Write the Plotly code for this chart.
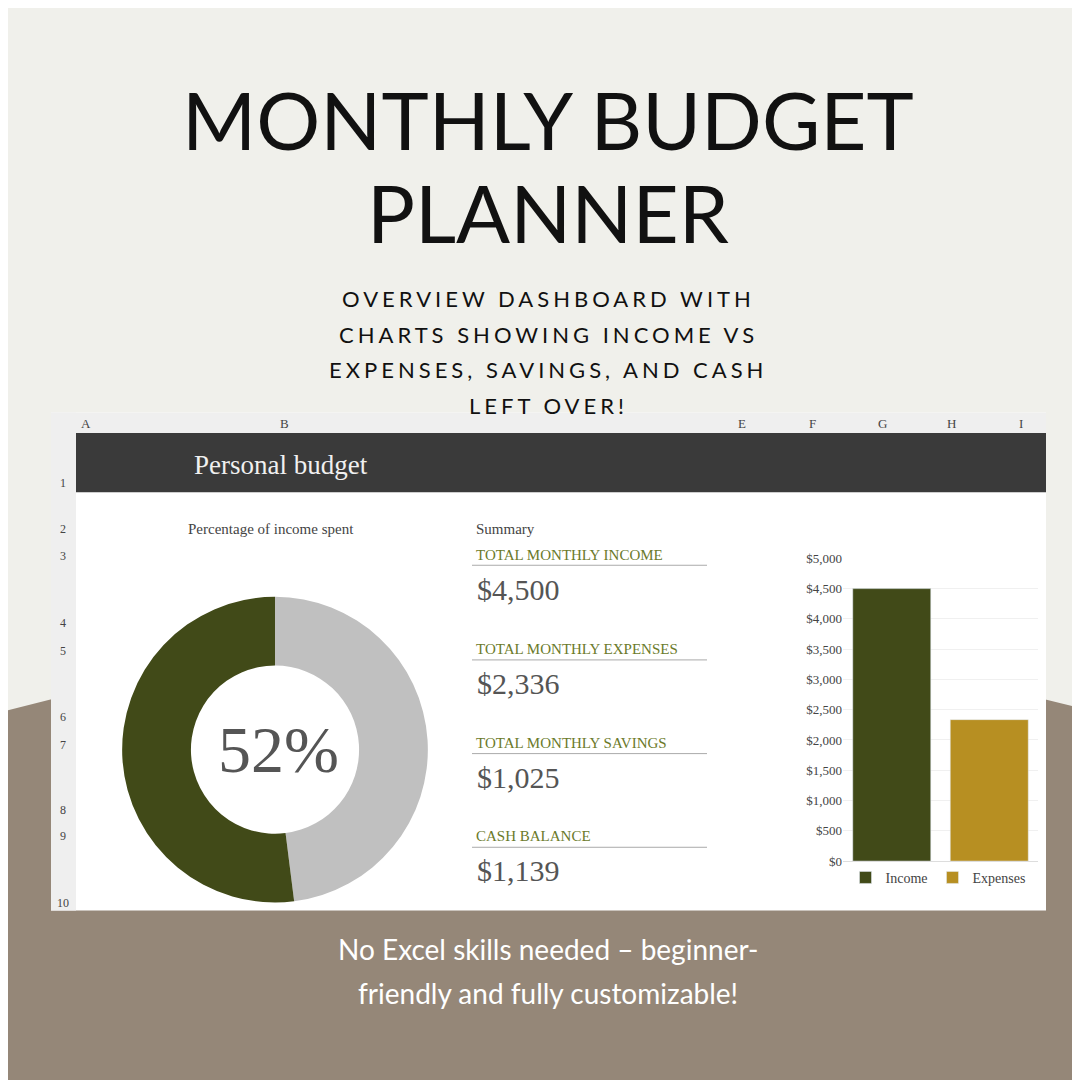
import plotly.graph_objects as go

# data
pie_labels = ["Spent", "Remaining"]
pie_values = [52, 48]
bar_cats = ["Income", "Expenses"]
bar_vals = [4500, 2336]
summary_labels = ["TOTAL MONTHLY INCOME", "TOTAL MONTHLY EXPENSES", "TOTAL MONTHLY SAVINGS", "CASH BALANCE"]
summary_values = ["$4,500", "$2,336", "$1,025", "$1,139"]
col_letters = ["A", "B", "C", "E", "F", "G", "H", "I"]
col_x = [78, 276, 582, 734, 804, 874, 943, 1013]
row_nums = ["1", "2", "3", "4", "5", "6", "7", "8", "9", "10"]
row_y = [475, 521, 549, 617, 645, 712, 740, 806, 833, 901]

GREEN = "#414a18"
GOLD = "#b78f22"
SERIF = "Liberation Serif"
W = H = 1080


def px(x, y):
    return x / W, 1 - y / H


fig = go.Figure()

shapes = [
    dict(type="path", xref="paper", yref="paper",
         path="M 0,0 L 0,%f Q 0.5,%f 1,%f L 1,0 Z" % (1 - 705 / H, 1 - 560 / H, 1 - 705 / H),
         fillcolor="#958778", line_width=0, layer="below"),
]


def rect(x0, y0, x1, y1, color):
    a, b = px(x0, y0)
    c, d = px(x1, y1)
    return dict(type="rect", xref="paper", yref="paper", x0=a, y0=d, x1=c, y1=b,
                fillcolor=color, layer="below", line_width=0)


shapes.append(rect(43, 403, 1038, 908, "white"))
shapes.append(rect(43, 403, 1038, 424, "#efefef"))
shapes.append(rect(43, 403, 68, 908, "#efefef"))
shapes.append(rect(68, 424, 1038, 484, "#3a3a3a"))
for yy in [558, 654, 749, 844]:
    a, b = px(464, yy)
    c, _ = px(699, yy)
    shapes.append(dict(type="line", xref="paper", yref="paper", x0=a, x1=c, y0=b, y1=b,
                       line=dict(color="#aaaaaa", width=1)))

ann = []


def text(x, y, t, size, color="#333", font=SERIF, xanchor="left"):
    a, b = px(x, y)
    ann.append(dict(x=a, y=b, xref="paper", yref="paper", text=t, showarrow=False,
                    xanchor=xanchor, yanchor="middle", font=dict(family=font, size=size, color=color)))


text(540, 105, "MONTHLY BUDGET", 80, "#111", "Lato", "center")
text(540, 200, "PLANNER", 80, "#111", "Lato", "center")
for i, line in enumerate(["OVERVIEW DASHBOARD WITH", "CHARTS SHOWING INCOME VS",
                          "EXPENSES, SAVINGS, AND CASH", "LEFT OVER!"]):
    text(540, 288 + i * 36, "<span style='letter-spacing:4px'>%s</span>" % line, 22, "#111", "Lato", "center")
for c, xx in zip(col_letters, col_x):
    if c == "C":
        continue
    text(xx, 414, c, 13, "#444", SERIF, "center")
for r, yy in zip(row_nums, row_y):
    text(55, yy, r, 12, "#444", SERIF, "center")
text(184, 456, "Personal budget", 27, "#f0f0f0")
text(178, 521, "Percentage of income spent", 15, "#444")
text(466, 521, "Summary", 15, "#444")
for i, (lab, val) in enumerate(zip(summary_labels, summary_values)):
    y0 = 548 + i * 95
    text(466, y0, lab, 15, "#6b7a2a")
    text(467, y0 + 35, val, 30, "#555")
text(270, 745, "52%", 66, "#555", SERIF, "center")
text(540, 947, "No Excel skills needed – beginner-", 28, "white", "Lato", "center")
text(540, 992, "friendly and fully customizable!", 28, "white", "Lato", "center")

x0, y0 = px(112, 900)
x1, y1 = px(422, 590)
fig.add_trace(go.Pie(labels=pie_labels, values=pie_values, hole=0.55, sort=False,
                     direction="clockwise", rotation=0, marker=dict(colors=["#c0c0c0", GREEN]),
                     textinfo="none", hoverinfo="label+percent", showlegend=False,
                     domain=dict(x=[x0, x1], y=[y0, y1])))
fig.data[0].labels = pie_labels[::-1]
fig.data[0].values = pie_values[::-1]

for cat, v, col in zip(bar_cats, bar_vals, [GREEN, GOLD]):
    fig.add_trace(go.Bar(x=[cat], y=[v], name=cat, marker_color=col, width=0.8,
                         xaxis="x", yaxis="y"))

fig.update_layout(
    width=W, height=H, margin=dict(l=0, r=0, t=0, b=0),
    paper_bgcolor="#f0f0eb", plot_bgcolor="white",
    shapes=shapes, annotations=ann,
    xaxis=dict(domain=[835 / W, 1030 / W], categoryorder="array", categoryarray=bar_cats,
               showticklabels=False, showline=True, linecolor="#ddd", anchor="y"),
    yaxis=dict(domain=[1 - 858 / H, 1 - 551 / H], range=[0, 5000], dtick=500,
               tickprefix="$", tickformat=",", gridcolor="#f0f0f0", zeroline=False,
               tickfont=dict(family=SERIF, size=13, color="#444"), anchor="x"),
    legend=dict(orientation="h", x=930 / W, xanchor="center", y=1 - 875 / H, yanchor="middle",
                font=dict(family=SERIF, size=14, color="#444"), bgcolor="rgba(0,0,0,0)",
                itemwidth=30),
    bargap=0.2,
)

fig.write_html("out.html")
